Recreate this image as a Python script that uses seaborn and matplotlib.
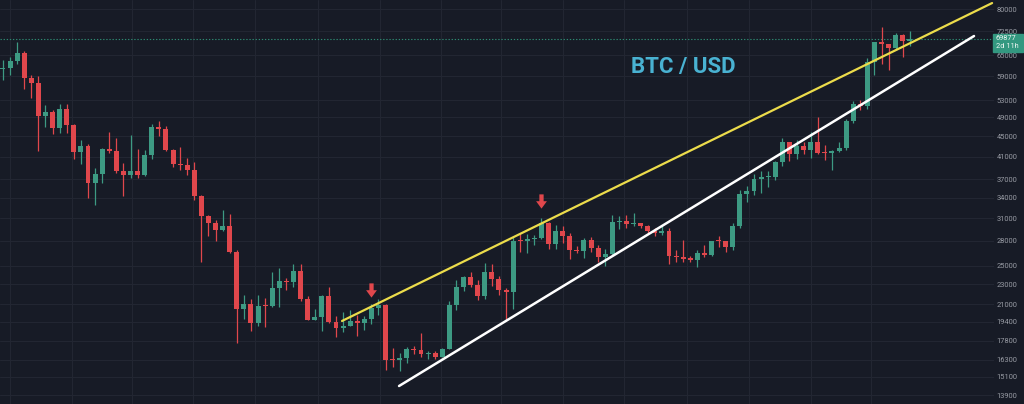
import matplotlib
matplotlib.use('Agg')
import matplotlib.pyplot as plt
import matplotlib.ticker as mticker
from matplotlib.patches import Rectangle
from matplotlib.path import Path
import numpy as np
import pandas as pd
import seaborn as sns

# weekly BTC/USD candles
weeks = pd.date_range('2021-10-25', periods=129, freq='W-MON')
opens = [60900, 61300, 63300, 65500, 58600, 57200, 49400, 50100, 46700, 50800,
         47300, 41800, 43100, 36300, 37900, 42400, 42100, 38400, 37700, 38400,
         37800, 41300, 46800, 46400, 42200, 39700, 39500, 38500, 34300, 31300,
         30300, 29400, 29900, 26600, 20500, 21000, 19300, 20850, 20800, 22600,
         23300, 23200, 24400, 21500, 19550, 19830, 21800, 19400, 18800, 19000,
         19450, 19250, 19600, 20600, 20900, 16300, 16280, 16450, 17100, 17080,
         16750, 16840, 16550, 17100, 20900, 22700, 23700, 22900, 21800, 24300,
         23500, 22400, 22150, 28000, 27950, 28200, 28300, 30300, 27600, 29250,
         28600, 26800, 26700, 28100, 27100, 25950, 26350, 30500, 30600, 30150,
         30300, 29900, 29250, 29050, 29300, 26100, 26000, 25800, 25700, 26500,
         26250, 27990, 27950, 27150, 29990, 34530, 35050, 37070, 37400, 37450,
         39970, 43800, 41400, 43000, 42300, 43900, 41700, 41600, 42000, 42600,
         48300, 52100, 51700, 63100, 68900, 68300, 67200, 71300, 69300]
highs = [63700, 64300, 69000, 66300, 59400, 59100, 51900, 50600, 52100, 52000,
         47600, 44300, 43500, 38900, 42600, 45800, 44700, 39800, 45200, 42400,
         42300, 47500, 48200, 47100, 42400, 42900, 40800, 40000, 34400, 31500,
         30700, 32200, 31600, 26800, 21900, 21500, 21900, 21600, 24300, 24700,
         23600, 25200, 25200, 21800, 20500, 21900, 22700, 19900, 20300, 20400,
         19950, 19900, 21000, 21500, 21000, 17200, 16800, 17300, 17400, 18400,
         17000, 16950, 17200, 21300, 23400, 23900, 24250, 23400, 25300, 25200,
         23900, 22600, 28500, 28900, 28800, 28700, 31000, 30500, 30000, 29900,
         29000, 27300, 28400, 28450, 27400, 27000, 31400, 31300, 31400, 31800,
         30400, 30000, 29700, 30100, 29700, 26800, 28100, 26100, 26800, 27400,
         28000, 28600, 28000, 30300, 35200, 35900, 37950, 38400, 38400, 40200,
         44700, 43800, 44300, 43800, 45900, 49000, 43200, 42200, 43900, 48600,
         52800, 53000, 64000, 69000, 73800, 68400, 71800, 71500, 72600]
lows = [58000, 59400, 62300, 55600, 53500, 42000, 46800, 45500, 45600, 45700,
        40600, 39700, 34000, 32900, 36300, 41700, 38000, 34300, 37200, 37200,
        37600, 40500, 45000, 42100, 39200, 38500, 37700, 33700, 25400, 28600,
        28000, 29300, 26500, 17600, 19600, 18600, 19000, 18900, 20700, 20700,
        22400, 22700, 21300, 19500, 19500, 18600, 19300, 18100, 18500, 19000,
        18200, 18700, 19200, 20000, 15600, 15800, 15500, 16100, 16750, 16500,
        16400, 16350, 16500, 17100, 20400, 22300, 22700, 21400, 21500, 22800,
        21900, 19600, 20500, 26600, 26500, 27500, 28200, 27000, 27000, 27700,
        25800, 26500, 25900, 26600, 25400, 25000, 26200, 29500, 29700, 29900,
        29600, 29000, 28600, 28700, 25200, 25400, 25400, 25400, 24900, 26000,
        26100, 27200, 26600, 26800, 29700, 33400, 34500, 34800, 35700, 36800,
        39300, 40200, 40600, 41500, 40750, 41500, 40300, 38500, 41800, 42300,
        47700, 50600, 50900, 59300, 62300, 60800, 66600, 64500, 67600]
closes = [61300, 63300, 65500, 58600, 57200, 49400, 50100, 46700, 50800, 47300,
          41800, 43100, 36300, 37900, 42400, 42100, 38400, 37700, 38400, 37800,
          41300, 46800, 46400, 42200, 39700, 39500, 38500, 34300, 31300, 30300,
          29400, 29900, 26600, 20500, 21000, 19300, 20800, 20800, 22600, 23300,
          23200, 24400, 21500, 19550, 19830, 21800, 19400, 18800, 19000, 19450,
          19250, 19600, 20600, 20900, 16300, 16280, 16450, 17100, 17080, 16750,
          16840, 16550, 17100, 20900, 22700, 23700, 22900, 21800, 24300, 23500,
          22400, 22150, 28000, 27950, 28200, 28300, 30300, 27600, 29250, 28600,
          26800, 26700, 28100, 27100, 25950, 26350, 30500, 30600, 30150, 30300,
          29900, 29250, 29050, 29300, 26100, 26000, 25800, 25700, 26500, 26250,
          27990, 27950, 27150, 29990, 34530, 35050, 37070, 37400, 37450, 39970,
          43800, 41400, 43000, 42300, 43900, 41700, 41600, 42000, 42600, 48300,
          52100, 51700, 63100, 68900, 68300, 67200, 71300, 69300, 69877]

price_ticks = [13900, 15100, 16300, 17800, 19400, 21000, 23000, 25000, 28000, 31000,
               34000, 37000, 41000, 45000, 49000, 53000, 59000, 65000, 72500, 80000]
last_price = 69877
time_left = '2d 11h'

# trend lines as (week number, price)
resistance_x = [47.85, 139.6]
resistance_y = [19450, 82300]
support_x = [55.9, 137.05]
support_y = [14480, 70870]

# red rejection arrows
arrow_x = [52, 76]
arrow_y = [22400, 33450]

bg = '#171b26'
grid_c = '#222632'
up_c = '#3d9a83'
down_c = '#e0474c'

sns.set_theme(style='dark', rc={'axes.facecolor': bg, 'figure.facecolor': bg})
plt.rcParams['font.family'] = ['Roboto', 'DejaVu Sans']

fig = plt.figure(figsize=(10.24, 4.04), dpi=100)
ax = fig.add_axes([0, 0, 994 / 1024, 1])
ax.set_facecolor(bg)

o = np.array(opens, dtype=float)
h = np.array(highs, dtype=float)
l = np.array(lows, dtype=float)
c = np.array(closes, dtype=float)
idx = np.arange(len(weeks))
colors = np.where(c >= o, up_c, down_c)

ax.set_yscale('log')

# wicks
ax.vlines(idx, l, h, colors=colors, lw=0.9, zorder=3)
# bodies (at least ~1px tall)
lo = np.minimum(o, c)
hi = np.maximum(np.maximum(o, c), lo * 1.005)
ax.bar(idx, hi - lo, bottom=lo, width=0.7, color=colors, linewidth=0, zorder=4)

# trend lines
sns.lineplot(x=resistance_x, y=resistance_y, ax=ax, color='#ecdc4b', lw=1.6, zorder=5)
sns.lineplot(x=support_x, y=support_y, ax=ax, color='#ffffff', lw=1.8, zorder=5)

# arrows
arrow = Path([(-0.15, 0.5), (0.15, 0.5), (0.15, 0.02), (0.38, 0.02), (0.0, -0.5),
              (-0.38, 0.02), (-0.15, 0.02), (-0.15, 0.5)], closed=True)
ax.scatter(arrow_x, arrow_y, marker=arrow, s=105, color=down_c, linewidths=0, zorder=6)

# last price line
ax.axhline(last_price, color='#2e8a72', lw=0.8, ls=(0, (1.2, 1.6)), zorder=2)

ax.set_xlim(-0.42, 139.87)
ax.set_ylim(13345, 83450)

# vertical grid every two months
month_marks = pd.date_range('2021-11-01', '2024-03-01', freq='2MS')
ax.set_xticks((month_marks - weeks[0]).days / 7)
ax.tick_params(axis='x', length=0, labelbottom=False)

ax.yaxis.tick_right()
ax.set_yticks(price_ticks)
ax.yaxis.set_major_formatter(mticker.FuncFormatter(lambda v, p: f'{v:.0f}'))
ax.yaxis.set_minor_locator(mticker.NullLocator())
ax.tick_params(axis='y', length=0, pad=2, labelsize=5.4, labelcolor='#989ba4')
ax.grid(True, color=grid_c, lw=0.8)
ax.set_axisbelow(True)
for s in ax.spines.values():
    s.set_visible(False)

# price label on the scale
fig.patches.append(Rectangle((993 / 1024, 1 - 52 / 404), 30 / 1024, 18 / 404,
                             transform=fig.transFigure, color='#339880', zorder=10))
fig.text(996 / 1024, 1 - 39 / 404, f'{last_price}', fontsize=5.3, color='#eef6f3',
         va='center', ha='left', zorder=11)
fig.text(996 / 1024, 1 - 47 / 404, time_left, fontsize=5.3, color='#eef6f3',
         va='center', ha='left', zorder=11)

fig.text(683 / 1024, 1 - 66.5 / 404, 'BTC / USD', fontsize=16, fontweight='bold',
         color='#49b2d2', ha='center', va='center')

fig.savefig('out.png', dpi=100, facecolor=bg)
